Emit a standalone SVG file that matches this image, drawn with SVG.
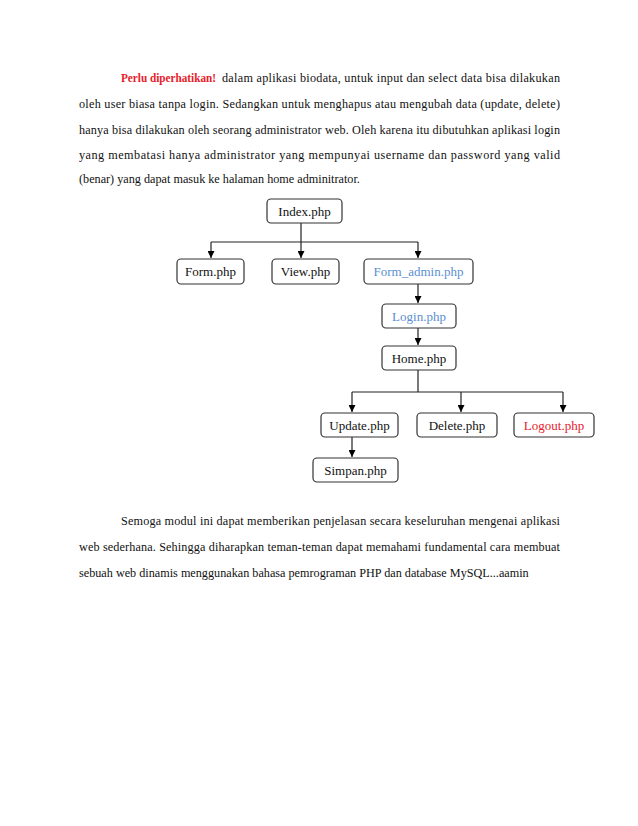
<svg xmlns="http://www.w3.org/2000/svg" width="638" height="826" viewBox="0 0 638 826">
<defs>
<marker id="ah" viewBox="0 0 10 10" refX="10" refY="5" markerWidth="7" markerHeight="7" markerUnits="userSpaceOnUse" orient="auto"><path d="M0,0 L10,5 L0,10 z" fill="#000"/></marker>
</defs>
<style>
.p{font-family:"Liberation Serif",serif;font-size:12.2px;fill:#111}
.b{fill:#fff;stroke:#333;stroke-width:1.2}
.t{font-family:"Liberation Serif",serif;font-size:13px;fill:#111;text-anchor:middle}
.blue{fill:#5b8fd0}
.red{fill:#e8202a}
.c{fill:none;stroke:#222;stroke-width:1.2}
</style>
<rect width="638" height="826" fill="#fff"/>
<g id="para1">
<text class="p red" x="121" y="82" font-weight="bold" textLength="95" lengthAdjust="spacingAndGlyphs">Perlu diperhatikan!</text>
<text class="p" x="222" y="82" textLength="338" lengthAdjust="spacing">dalam aplikasi biodata, untuk input dan select data bisa dilakukan</text>
<text class="p" x="79" y="108" textLength="481" lengthAdjust="spacing">oleh user biasa tanpa login. Sedangkan untuk menghapus atau mengubah data (update, delete)</text>
<text class="p" x="79" y="134" textLength="481" lengthAdjust="spacing">hanya bisa dilakukan oleh seorang administrator web. Oleh karena itu dibutuhkan aplikasi login</text>
<text class="p" x="79" y="159" textLength="481" lengthAdjust="spacing">yang membatasi hanya administrator yang mempunyai username dan password yang valid</text>
<text class="p" x="79" y="183">(benar) yang dapat masuk ke halaman home adminitrator.</text>
</g>
<g id="connectors">
<path class="c" d="M301,223 V242 M211,242 H418" />
<path class="c" d="M211,242 V258" marker-end="url(#ah)"/>
<path class="c" d="M301,242 V258" marker-end="url(#ah)"/>
<path class="c" d="M418,242 V258" marker-end="url(#ah)"/>
<path class="c" d="M418,284 V303" marker-end="url(#ah)"/>
<path class="c" d="M418,328 V345" marker-end="url(#ah)"/>
<path class="c" d="M418,370 V392 M352,392 H563"/>
<path class="c" d="M352,392 V412" marker-end="url(#ah)"/>
<path class="c" d="M461,392 V412" marker-end="url(#ah)"/>
<path class="c" d="M563,392 V412" marker-end="url(#ah)"/>
<path class="c" d="M352,437 V457" marker-end="url(#ah)"/>
</g>
<g id="index"><rect class="b" x="267" y="199" width="75" height="24" rx="4"/><text class="t" x="304.5" y="216">Index.php</text></g>
<g id="form"><rect class="b" x="177" y="259" width="67" height="25" rx="4"/><text class="t" x="210.5" y="276">Form.php</text></g>
<g id="view"><rect class="b" x="272" y="259" width="67" height="25" rx="4"/><text class="t" x="305.5" y="276">View.php</text></g>
<g id="form_admin"><rect class="b" x="364" y="259" width="109" height="25" rx="4"/><text class="t blue" x="418.5" y="276">Form_admin.php</text></g>
<g id="login"><rect class="b" x="382" y="304" width="74" height="24" rx="4"/><text class="t blue" x="419" y="321">Login.php</text></g>
<g id="home"><rect class="b" x="382" y="346" width="74" height="24" rx="4"/><text class="t" x="419" y="363">Home.php</text></g>
<g id="update"><rect class="b" x="321" y="413" width="77" height="24" rx="4"/><text class="t" x="359.5" y="430">Update.php</text></g>
<g id="delete"><rect class="b" x="417" y="413" width="80" height="24" rx="4"/><text class="t" x="457" y="430">Delete.php</text></g>
<g id="logout"><rect class="b" x="514" y="413" width="80" height="24" rx="4"/><text class="t red" x="554" y="430">Logout.php</text></g>
<g id="simpan"><rect class="b" x="313" y="458" width="85" height="24" rx="4"/><text class="t" x="355.5" y="475">Simpan.php</text></g>
<g id="para2">
<text class="p" x="121" y="525" textLength="439" lengthAdjust="spacing">Semoga modul ini dapat memberikan penjelasan secara keseluruhan mengenai aplikasi</text>
<text class="p" x="79" y="551" textLength="481" lengthAdjust="spacing">web sederhana. Sehingga diharapkan teman-teman dapat memahami fundamental cara membuat</text>
<text class="p" x="79" y="577">sebuah web dinamis menggunakan bahasa pemrograman PHP dan database MySQL...aamin</text>
</g>
</svg>
